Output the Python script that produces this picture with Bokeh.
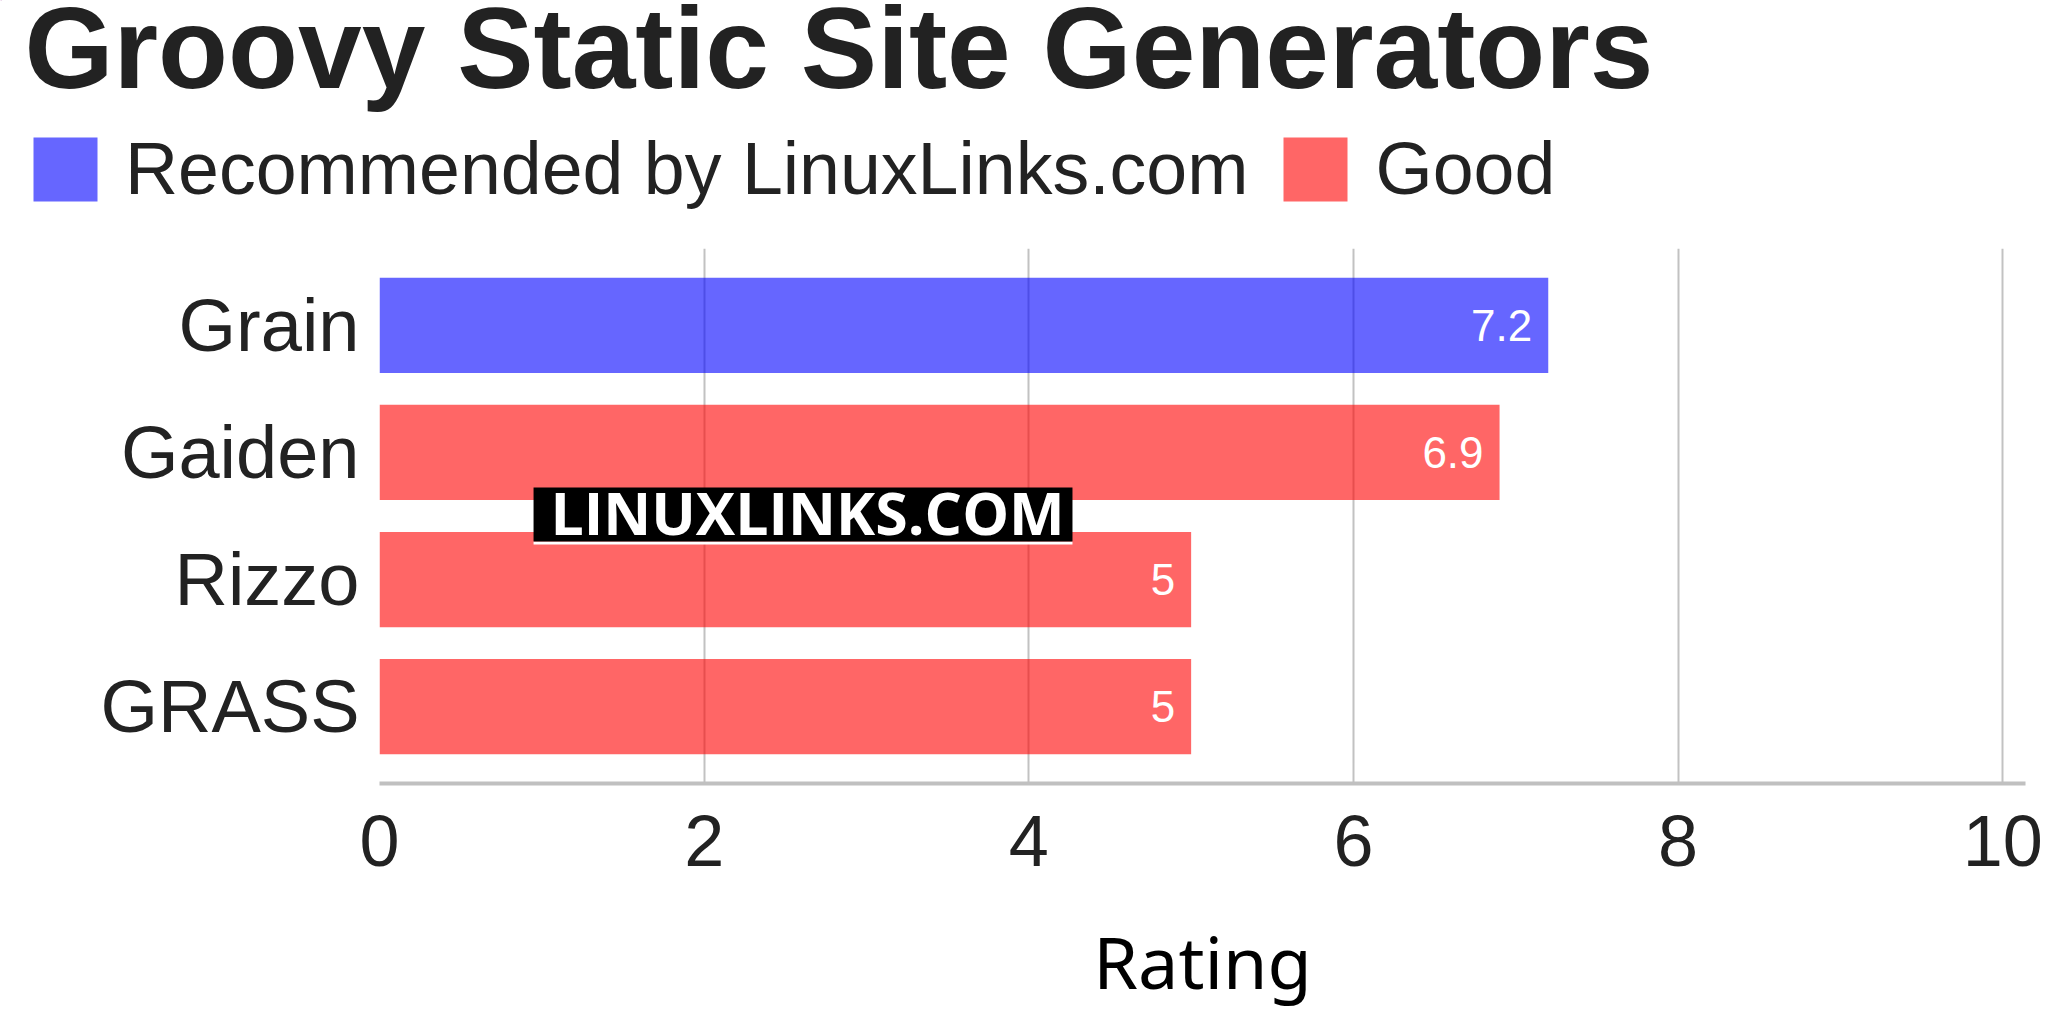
from bokeh.plotting import figure
from bokeh.layouts import column, row
from bokeh.models import (ColumnDataSource, FactorRange, Range1d, Legend, LegendItem,
                          Label, FixedTicker, BoxAnnotation)
from bokeh.core.properties import value
from bokeh.embed import file_html
from bokeh.resources import INLINE

# ---- data ----
names = ["Grain", "Gaiden", "Rizzo", "GRASS"]
ratings = [7.2, 6.9, 5.0, 5.0]
groups = ["Recommended by LinuxLinks.com", "Good", "Good", "Good"]
value_labels = ["7.2", "6.9", "5", "5"]
series = ["Recommended by LinuxLinks.com", "Good"]
series_colors = ["#0000ff", "#ff0000"]
x_ticks = [0, 2, 4, 6, 8, 10]
title_text = "Groovy Static Site Generators"
x_title = "Rating"
watermark_text = "LINUXLINKS.COM"

FONT = "Liberation Sans"
TXT = "#222222"
W = 2048
TOP_H = 215
MAIN_H = 803
RULE_H = 3

# ---------------- header figure: title + legend ----------------
ph = figure(width=W, height=TOP_H, output_backend="svg", toolbar_location=None,
            x_range=Range1d(0, W), y_range=Range1d(TOP_H, 0),
            x_axis_location=None, y_axis_location=None,
            min_border=0, min_border_left=0, min_border_right=0,
            min_border_top=0, min_border_bottom=0)
ph.outline_line_color = None
ph.grid.grid_line_color = None
ph.background_fill_color = "white"
ph.border_fill_color = "white"

ph.add_layout(Label(x=24, y=47, text=title_text, text_font=FONT, text_font_style="bold",
                    text_font_size="114.5px", text_color=TXT, text_baseline="alphabetic",
                    text_align="left"))

items = []
for s, c in zip(series, series_colors):
    # swatch renderer for the legend (kept outside the visible header range)
    r = ph.hbar(y=[-1000], right=[1], left=0, height=1, fill_color=c, fill_alpha=0.6,
                line_color=None)
    items.append(LegendItem(label=s, renderers=[r]))

legend = Legend(items=items, orientation="horizontal", location=(25, 4),
                glyph_width=80, glyph_height=80, label_standoff=20, spacing=27,
                padding=0, margin=0, border_line_color=None, background_fill_alpha=0,
                label_text_font=FONT, label_text_font_size="73.5px", label_text_color=TXT)
ph.add_layout(legend, "center")

# ---------------- main chart ----------------
p = figure(width=W, height=MAIN_H, output_backend="svg", toolbar_location=None,
           y_range=FactorRange(factors=names[::-1], range_padding=0.105,
                               range_padding_units="absolute"),
           x_range=Range1d(0, 10.14),
           min_border_left=379, min_border_right=23, min_border_top=33,
           min_border_bottom=235)
p.title = None
p.outline_line_color = None
p.background_fill_color = "white"
p.border_fill_color = "white"

for s, c in zip(series, series_colors):
    idx = [i for i, g in enumerate(groups) if g == s]
    src = ColumnDataSource(dict(y=[names[i] for i in idx], x=[ratings[i] for i in idx],
                                lab=[value_labels[i] for i in idx]))
    p.hbar(y="y", right="x", left=0, height=0.75, source=src,
           fill_color=c, fill_alpha=0.6, line_color=None)
    p.text(x="x", y="y", text="lab", source=src, x_offset=-16, text_align="right",
           text_baseline="middle", text_color="white", text_font=value(FONT),
           text_font_size="44px")

xa = p.xaxis[0]
xa.ticker = FixedTicker(ticks=x_ticks)
xa.axis_line_color = "#c0c0c0"
xa.axis_line_width = 4
xa.major_tick_line_color = None
xa.minor_tick_line_color = None
xa.major_label_text_font = FONT
xa.major_label_text_font_size = "72px"
xa.major_label_text_color = TXT
xa.major_label_standoff = 26
xa.axis_label = x_title
xa.axis_label_text_font = "Noto Sans"
xa.axis_label_text_font_size = "72px"
xa.axis_label_text_font_style = "normal"
xa.axis_label_text_color = "#000000"
xa.axis_label_standoff = 43

ya = p.yaxis[0]
ya.axis_line_color = None
ya.major_tick_line_color = None
ya.minor_tick_line_color = None
ya.major_label_text_font = FONT
ya.major_label_text_font_size = "74px"
ya.major_label_text_color = TXT
ya.major_label_standoff = 14

p.ygrid.grid_line_color = None
p.xgrid.ticker = FixedTicker(ticks=x_ticks)
p.xgrid.grid_line_color = "#c2c2c2"
p.xgrid.grid_line_width = 2

# watermark (black badge with white text)
p.add_layout(BoxAnnotation(left=0.949, right=4.269, top=1.799, bottom=1.775,
                           fill_color="white", fill_alpha=1, line_color=None))
p.add_layout(BoxAnnotation(left=0.949, right=4.269, top=2.224, bottom=1.799,
                           fill_color="black", fill_alpha=1, line_color=None))
p.add_layout(Label(x=1.053, y=2.028, text=watermark_text, text_font="Open Sans",
                   text_font_style="bold", text_font_size="59px", text_color="white",
                   text_baseline="middle", text_align="left"))

# ---------------- bottom rule ----------------
pr = figure(width=W, height=RULE_H, output_backend="svg", toolbar_location=None,
            x_axis_location=None, y_axis_location=None,
            min_border=0, min_border_left=0, min_border_right=0,
            min_border_top=0, min_border_bottom=0)
pr.outline_line_color = None
pr.grid.grid_line_color = None
pr.background_fill_color = "black"
pr.border_fill_color = "black"

layout = column(row(ph), p, pr, spacing=0)
open("out.html", "w").write(file_html(layout, INLINE))
